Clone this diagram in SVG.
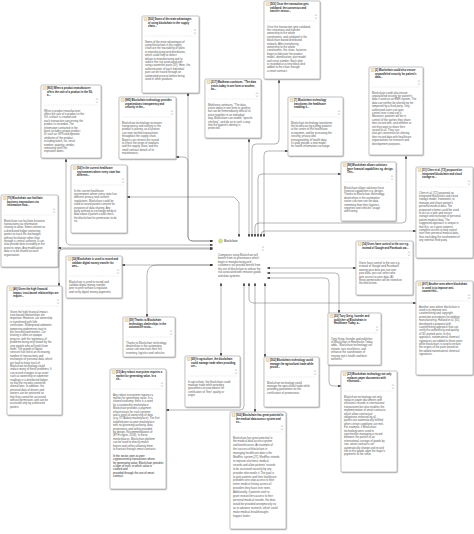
<svg xmlns="http://www.w3.org/2000/svg" xmlns:xlink="http://www.w3.org/1999/xlink" width="474" height="534" viewBox="0 0 474 534">
<defs>
<style>
.bx{fill:#fff;stroke:#8a8a8a;stroke-width:.5;filter:url(#sh)}
.ic{fill:#f3e7c2;stroke:#c7aa70;stroke-width:.3}
.t{font-family:"Liberation Sans",Arial,sans-serif;font-size:2.6px;font-weight:bold;fill:#2a2a2a}
.b{font-family:"Liberation Sans",Arial,sans-serif;font-size:2.75px;fill:#5a5a5a}
.bd{fill:#2a2a2a}
.sp{stroke:#c8c8c8;stroke-width:.35;stroke-dasharray:1 .7}
.cn path{fill:none;stroke:#6a6a6a;stroke-width:.5;marker-start:url(#ah);marker-end:url(#ah)}
.tg{fill:none;stroke:#444;stroke-width:.35}
</style>
<filter id="sh" x="-10%" y="-10%" width="125%" height="125%"><feDropShadow dx="0.6" dy="0.8" stdDeviation="0.5" flood-opacity="0.35"/></filter>
<marker id="ah" markerUnits="userSpaceOnUse" markerWidth="3" markerHeight="2.6" refX="2.8" refY="1.3" orient="auto-start-reverse"><path d="M0,0 L3,1.3 L0,2.6z" fill="#333"/></marker>
<path id="tg" class="tg" d="M-0.8,14.6 L0,13.7 L0.8,14.6 M-0.8,16.6 L0,17.5 L0.8,16.6"/>
</defs>
<rect width="474" height="534" fill="#fff"/>

<g id="connectors" class="cn">
<path d="M66,159 V240 Q66,245 71,245 H213"/>
<path d="M188,93 V236 Q188,241 193,241 H213"/>
<path d="M176,157 H183 Q188,157 188,162 V236 Q188,241 193,241 H213"/>
<path d="M127,197 H234 L239,202 V237"/>
<path d="M58,248 H213"/>
<path d="M59,286 V253 Q59,249 63,249 H213"/>
<path d="M122,265 H213"/>
<path d="M147,317 V275 Q147,265 157,265 H213"/>
<path d="M249,139 V237"/>
<path d="M279,80 V140 Q279,144 275,144 H256 Q252,144 252,148 V237"/>
<path d="M406,156 V219 Q406,223 402,223 H259 Q255,223 255,227 V237"/>
<path d="M341,174 H262 Q258,174 258,178 V237"/>
<path d="M416,231 H265 Q261,231 261,235 V237"/>
<path d="M288,151 H268 Q264,151 264,155 V237"/>
<path d="M356,268 H267"/>
<path d="M339,313 V277 Q339,273 335,273 H267"/>
<path d="M341,386 H333 Q329,386 329,382 V282 Q329,278 325,278 H267"/>
<path d="M221,356 V283"/>
<path d="M166,410 H240 Q244,410 244,406 V283"/>
<path d="M416,303 H254 Q249,303 249,298 V283"/>
<path d="M255,412 V283"/>
<path d="M265,357 V283"/>
</g>

<g id="center" transform="translate(218,237)">
<circle cx="2.5" cy="4" r="2" fill="#d4e38c" stroke="#9cb04c" stroke-width=".3"/>
<text class="t" x="6" y="5" style="font-weight:normal;font-size:2.8px">Blockchain</text>
<use href="#tg" x="45" y="-4"/>
<text class="b"><tspan x="0" y="18.5">Companies using Blockchain will</tspan><tspan x="0" y="22">benefit from its provenance which</tspan><tspan x="0" y="25.5">begin in manufacturing and</tspan><tspan x="0" y="29">customers will provide benefit from</tspan><tspan x="0" y="32.5">the use of blockchain to reduce the</tspan><tspan x="0" y="36">risk associated with imitative goods</tspan><tspan x="0" y="39.5">and data systems.</tspan></text>
</g>

<g id="n863" transform="translate(41,85)">
<rect class="bx" width="60" height="73" rx="1"/><rect class="ic" x="2" y="1.8" width="3" height="3"/>
<text class="t"><tspan x="6" y="4.2">[863] When a product manufacturer</tspan><tspan x="6" y="7.6">offers the sale of a product in the 5G,</tspan><tspan x="6" y="11">a...</tspan></text>
<use href="#tg" x="56"/><line class="sp" x1="3" x2="57" y1="20" y2="20"/>
<text class="b"><tspan x="3" y="26.5">When a product manufacturer</tspan><tspan x="3" y="29.9">offers the sale of a product in the</tspan><tspan x="3" y="33.3">5G, a block is created and</tspan><tspan x="3" y="36.7">each transaction concerning the</tspan><tspan x="3" y="40.1">product is recorded. The</tspan><tspan x="3" y="43.5">information contained in the</tspan><tspan x="3" y="46.9">block includes unique product</tspan><tspan x="3" y="50.3">ID such as GPS and dynamic</tspan><tspan x="3" y="53.7">attributes of the product</tspan><tspan x="3" y="57.1">including batch, lot, serial</tspan><tspan x="3" y="60.5">number, quantity, vendor,</tspan><tspan x="3" y="63.9">remaining shelf life,</tspan><tspan x="3" y="67.3">expiration dates.</tspan></text>
</g>

<g id="n562a" transform="translate(142,16)">
<rect class="bx" width="57" height="77" rx="1"/><rect class="ic" x="2" y="1.8" width="3" height="3"/>
<text class="t"><tspan x="6" y="4.2">[562] Some of the main advantages</tspan><tspan x="6" y="7.6">of using blockchain in the supply</tspan><tspan x="6" y="11">chain...</tspan></text>
<use href="#tg" x="53"/><line class="sp" x1="3" x2="54" y1="20" y2="20"/>
<text class="b"><tspan x="3" y="26.5">Some of the main advantages of</tspan><tspan x="3" y="29.9">using blockchain in the supply</tspan><tspan x="3" y="33.3">chain are the traceability of parts</tspan><tspan x="3" y="36.7">in manufacturing and distribution,</tspan><tspan x="3" y="40.1">which could help to detect</tspan><tspan x="3" y="43.5">delays in manufacturing and to</tspan><tspan x="3" y="46.9">reduce the risk associated with</tspan><tspan x="3" y="50.3">using counterfeit parts [59]. Here, the</tspan><tspan x="3" y="53.7">authentication of each individual</tspan><tspan x="3" y="57.1">part can be traced through an</tspan><tspan x="3" y="60.5">automated process before being</tspan><tspan x="3" y="63.9">used in other products.</tspan></text>
</g>

<g id="n563" transform="translate(264,1)">
<rect class="bx" width="56" height="78" rx="1"/><rect class="ic" x="2" y="1.8" width="3" height="3"/>
<text class="t"><tspan x="6" y="4.2">[563] Once the transaction gets</tspan><tspan x="6" y="7.6">validated, the consensus and</tspan><tspan x="6" y="11">transfer sensor...</tspan></text>
<use href="#tg" x="52"/><line class="sp" x1="3" x2="53" y1="20" y2="20"/>
<text class="b"><tspan x="3" y="26.5">Once the transaction gets validated,</tspan><tspan x="3" y="29.9">the consensus and transfer</tspan><tspan x="3" y="33.3">ownership to the whole</tspan><tspan x="3" y="36.7">constituents, and validated in the</tspan><tspan x="3" y="40.1">blockchain based distributed</tspan><tspan x="3" y="43.5">network. After transferring</tspan><tspan x="3" y="46.9">ownership to the whole</tspan><tspan x="3" y="50.3">constituents, the chain, factories</tspan><tspan x="3" y="53.7">begin to fabricate the product</tspan><tspan x="3" y="57.1">model, identification, part model</tspan><tspan x="3" y="60.5">and serial number. Each step</tspan><tspan x="3" y="63.9">is recorded as a new block and</tspan><tspan x="3" y="67.3">added to the chain through</tspan><tspan x="3" y="70.7">a smart contract.</tspan></text>
</g>

<g id="n2" transform="translate(369,67)">
<rect class="bx" width="54" height="88" rx="1"/><rect class="ic" x="2" y="1.8" width="3" height="3"/>
<text class="t"><tspan x="6" y="4.2">[2] Blockchain could also ensure</tspan><tspan x="6" y="7.6">unparalleled security for patient's</tspan><tspan x="6" y="11">data...</tspan></text>
<use href="#tg" x="50"/><line class="sp" x1="3" x2="51" y1="20" y2="20"/>
<text class="b"><tspan x="3" y="26.5">Blockchain could also ensure</tspan><tspan x="3" y="29.9">unparalleled security for patient's</tspan><tspan x="3" y="33.3">data if used as an EMR system. The</tspan><tspan x="3" y="36.7">data can neither be altered nor be</tspan><tspan x="3" y="40.1">tampered by a third party. Only</tspan><tspan x="3" y="43.5">authorized users can gain</tspan><tspan x="3" y="46.9">control over it and use it.</tspan><tspan x="3" y="50.3">Moreover, patients will be in</tspan><tspan x="3" y="53.7">control of the parties they share</tspan><tspan x="3" y="57.1">their record with, and whether or</tspan><tspan x="3" y="60.5">not they want to share their</tspan><tspan x="3" y="63.9">record at all. They can</tspan><tspan x="3" y="67.3">also get consensus for altering</tspan><tspan x="3" y="70.7">their record data with healthcare</tspan><tspan x="3" y="74.1">organizations for research and</tspan><tspan x="3" y="77.5">development purposes.</tspan></text>
</g>

<g id="n217" transform="translate(205,79)">
<rect class="bx" width="56" height="59" rx="1"/><rect class="ic" x="2" y="1.8" width="3" height="3"/>
<text class="t"><tspan x="6" y="4.2">[217] Matthews continues, "The data</tspan><tspan x="6" y="7.6">exists today in one form or another,</tspan><tspan x="6" y="11">bu...</tspan></text>
<use href="#tg" x="52"/><line class="sp" x1="3" x2="53" y1="20" y2="20"/>
<text class="b"><tspan x="3" y="26.5">Matthews continues, "The data</tspan><tspan x="3" y="29.9">exists today in one form or another,</tspan><tspan x="3" y="33.3">but can be tremendously difficult to</tspan><tspan x="3" y="36.7">piece together in an individual</tspan><tspan x="3" y="40.1">way. Blockchain can enable "specific</tspan><tspan x="3" y="43.5">stitching", and do so in such a way</tspan><tspan x="3" y="46.9">that the patient's identity is</tspan><tspan x="3" y="50.3">protected."</tspan></text>
</g>

<g id="n7" transform="translate(288,97)">
<rect class="bx" width="55" height="59" rx="1"/><rect class="ic" x="2" y="1.8" width="3" height="3"/>
<text class="t"><tspan x="6" y="4.2">[7] Blockchain technology</tspan><tspan x="6" y="7.6">transforms the healthcare</tspan><tspan x="6" y="11">enabling it...</tspan></text>
<use href="#tg" x="51"/><line class="sp" x1="3" x2="52" y1="20" y2="20"/>
<text class="b"><tspan x="3" y="26.5">Blockchain technology transforms</tspan><tspan x="3" y="29.9">the healthcare by putting patients</tspan><tspan x="3" y="33.3">at the centre of the healthcare</tspan><tspan x="3" y="36.7">ecosystem, and by increasing the</tspan><tspan x="3" y="40.1">security, privacy and</tspan><tspan x="3" y="43.5">interoperability of health data.</tspan><tspan x="3" y="46.9">It could provide a new model</tspan><tspan x="3" y="50.3">for health information exchange.</tspan></text>
</g>

<g id="n985" transform="translate(119,97)">
<rect class="bx" width="57" height="62" rx="1"/><rect class="ic" x="2" y="1.8" width="3" height="3"/>
<text class="t"><tspan x="6" y="4.2">[985] Blockchain technology provides</tspan><tspan x="6" y="7.6">organizations transparency and</tspan><tspan x="6" y="11">security in the...</tspan></text>
<use href="#tg" x="53"/><line class="sp" x1="3" x2="54" y1="20" y2="20"/>
<text class="b"><tspan x="3" y="26.5">Blockchain technology increases</tspan><tspan x="3" y="29.9">transparency and security in the</tspan><tspan x="3" y="33.3">product's journey, as all parties</tspan><tspan x="3" y="36.7">can view verified transactions</tspan><tspan x="3" y="40.1">throughout the supply chain.</tspan><tspan x="3" y="43.5">Buyers can retrieve the record</tspan><tspan x="3" y="46.9">to check the origin of products</tspan><tspan x="3" y="50.3">and the supply chain, and the</tspan><tspan x="3" y="53.7">small contract details of its</tspan><tspan x="3" y="57.1">maintenance.</tspan></text>
</g>

<g id="n54" transform="translate(71,165)">
<rect class="bx" width="56" height="68" rx="1"/><rect class="ic" x="2" y="1.8" width="3" height="3"/>
<text class="t"><tspan x="6" y="4.2">[54] In the current healthcare</tspan><tspan x="6" y="7.6">environment where every state has</tspan><tspan x="6" y="11">different...</tspan></text>
<use href="#tg" x="52"/><line class="sp" x1="3" x2="53" y1="20" y2="20"/>
<text class="b"><tspan x="3" y="26.5">In the current healthcare</tspan><tspan x="3" y="29.9">environment where every state has</tspan><tspan x="3" y="33.3">different privacy and consent</tspan><tspan x="3" y="36.7">regulations, Blockchain could be</tspan><tspan x="3" y="40.1">used to record patient consent for</tspan><tspan x="3" y="43.5">purposes of data sharing. Any</tspan><tspan x="3" y="46.9">party wishing to exchange medical</tspan><tspan x="3" y="50.3">data about a patient could check</tspan><tspan x="3" y="53.7">the blockchain for permission to do</tspan><tspan x="3" y="57.1">so.</tspan></text>
</g>

<g id="n79" transform="translate(1,195)">
<rect class="bx" width="57" height="72" rx="1"/><rect class="ic" x="2" y="1.8" width="3" height="3"/>
<text class="t"><tspan x="6" y="4.2">[79] Blockchain can facilitate</tspan><tspan x="6" y="7.6">business transactions via</tspan><tspan x="6" y="11">information flow...</tspan></text>
<use href="#tg" x="53"/><line class="sp" x1="3" x2="54" y1="20" y2="20"/>
<text class="b"><tspan x="3" y="26.5">Blockchain can facilitate business</tspan><tspan x="3" y="29.9">transactions via information</tspan><tspan x="3" y="33.3">sharing to allow. Some content as</tspan><tspan x="3" y="36.7">a distributed ledger protecting</tspan><tspan x="3" y="40.1">parties to track the exchanges</tspan><tspan x="3" y="43.5">without facilitation rather than</tspan><tspan x="3" y="46.9">through a central authority. It can</tspan><tspan x="3" y="50.3">also provide data recording in the</tspan><tspan x="3" y="53.7">process steps. Any modification</tspan><tspan x="3" y="57.1">data is to be shared as each</tspan><tspan x="3" y="60.5">organisation.</tspan></text>
</g>

<g id="n34" transform="translate(66,256)">
<rect class="bx" width="56" height="42" rx="1"/><rect class="ic" x="2" y="1.8" width="3" height="3"/>
<text class="t"><tspan x="6" y="4.2">[34] Blockchain is used to record and</tspan><tspan x="6" y="7.6">validate digital money transfer for</tspan><tspan x="6" y="11">wes...</tspan></text>
<use href="#tg" x="52"/><line class="sp" x1="3" x2="53" y1="20" y2="20"/>
<text class="b"><tspan x="3" y="26.5">Blockchain is used to record and</tspan><tspan x="3" y="29.9">validate digital money transfer</tspan><tspan x="3" y="33.3">peer to peer without a regulator,</tspan><tspan x="3" y="36.7">and verify digital money payments.</tspan></text>
</g>

<g id="n46" transform="translate(7,286)">
<rect class="bx" width="55" height="129" rx="1"/><rect class="ic" x="2" y="1.8" width="3" height="3"/>
<text class="t"><tspan x="6" y="4.2">[46] Given the high financial</tspan><tspan x="6" y="7.6">impact, trust-based relationships are</tspan><tspan x="6" y="11">require...</tspan></text>
<use href="#tg" x="51"/><line class="sp" x1="3" x2="52" y1="20" y2="20"/>
<text class="b"><tspan x="3" y="26.5">Given the high financial impact,</tspan><tspan x="3" y="29.9">trust-based relationships are</tspan><tspan x="3" y="33.3">important. However, car ownership</tspan><tspan x="3" y="36.7">is transferred with little</tspan><tspan x="3" y="40.1">verification. Widespread odometer</tspan><tspan x="3" y="43.5">tampering undermines trust in</tspan><tspan x="3" y="46.9">the second-hand market. Car</tspan><tspan x="3" y="50.3">leasing is often an opaque</tspan><tspan x="3" y="53.7">process, with the legitimacy of</tspan><tspan x="3" y="57.1">problems being only known by the</tspan><tspan x="3" y="60.5">very people who will profit from</tspan><tspan x="3" y="63.9">them. The growth of digital</tspan><tspan x="3" y="67.3">services has led to an increasing</tspan><tspan x="3" y="70.7">number of transactions and</tspan><tspan x="3" y="74.1">exchanges of personal data, which</tspan><tspan x="3" y="77.5">are hard to keep track of.</tspan><tspan x="3" y="80.9">Blockchain technology could</tspan><tspan x="3" y="84.3">reduce many of these problems. It</tspan><tspan x="3" y="87.7">can record changes to an asset</tspan><tspan x="3" y="91.1">such as ownership or odometer</tspan><tspan x="3" y="94.5">readings in a distributed ledger,</tspan><tspan x="3" y="97.9">so that the records cannot be</tspan><tspan x="3" y="101.3">altered later. In addition, the</tspan><tspan x="3" y="104.7">personal data of drivers and</tspan><tspan x="3" y="108.1">owners can be protected so</tspan><tspan x="3" y="111.5">that they cannot be accessed</tspan><tspan x="3" y="114.9">without permission, and can be</tspan><tspan x="3" y="118.3">accessed only by authorized</tspan><tspan x="3" y="121.7">parties.</tspan></text>
</g>

<g id="n58" transform="translate(123,317)">
<rect class="bx" width="52" height="40" rx="1"/><rect class="ic" x="2" y="1.8" width="3" height="3"/>
<text class="t"><tspan x="6" y="4.2">[58] Thanks to Blockchain</tspan><tspan x="6" y="7.6">technology, dealerships in the</tspan><tspan x="6" y="11">automotive secto...</tspan></text>
<use href="#tg" x="48"/><line class="sp" x1="3" x2="49" y1="20" y2="20"/>
<text class="b"><tspan x="3" y="26.5">Thanks to Blockchain technology,</tspan><tspan x="3" y="29.9">dealerships in the automotive</tspan><tspan x="3" y="33.3">sector can now track their full</tspan><tspan x="3" y="36.7">inventory, logistics and vehicles.</tspan></text>
</g>

<g id="n13" transform="translate(110,369)">
<rect class="bx" width="56" height="120" rx="1"/><rect class="ic" x="2" y="1.8" width="3" height="3"/>
<text class="t"><tspan x="6" y="4.2">[13] Any robust ecosystem requires a</tspan><tspan x="6" y="7.6">market for generating value. In a</tspan><tspan x="6" y="11">sh...</tspan></text>
<use href="#tg" x="52"/><line class="sp" x1="3" x2="53" y1="20" y2="20"/>
<text class="b"><tspan x="3" y="26.5">Any robust ecosystem requires a</tspan><tspan x="3" y="29.9">market for generating value. In a</tspan><tspan x="3" y="33.3">shared economy, there is a need</tspan><tspan x="3" y="36.7">for a trustworthy marketplace.</tspan><tspan x="3" y="40.1">Blockchain provides a payment</tspan><tspan x="3" y="43.5">infrastructure for such systems</tspan><tspan x="3" y="46.9">and a proof-of-ownership of data</tspan><tspan x="3" y="50.3">(e.g. IOTA data marketplace). The first</tspan><tspan x="3" y="53.7">enabled peer-to-peer marketplace</tspan><tspan x="3" y="57.1">with no governing authority, data</tspan><tspan x="3" y="60.5">provenance and safety provided</tspan><tspan x="3" y="63.9">by design. Recommendations of</tspan><tspan x="3" y="67.3">(ETH crypto, 2018). In these</tspan><tspan x="3" y="70.7">marketplaces, Blockchain platform</tspan><tspan x="3" y="74.1">can be used to directly match</tspan><tspan x="3" y="77.5">buyers and sellers allowing them</tspan><tspan x="3" y="80.9">to transact through smart contracts.</tspan><tspan class="bd" x="3" y="87.7">In the sector, peer-to-peer</tspan><tspan class="bd" x="3" y="91.1">cryptocurrency transactions where</tspan><tspan class="bd" x="3" y="94.5">for generating value, Blockchain provides</tspan><tspan class="bd" x="3" y="97.9">a layer of trust, in which value is</tspan><tspan class="bd" x="3" y="101.3">created and</tspan><tspan class="bd" x="3" y="104.7">provided through the use of smart</tspan><tspan class="bd" x="3" y="108.1">contract.</tspan></text>
</g>

<g id="n98" transform="translate(341,162)">
<rect class="bx" width="55" height="59" rx="1"/><rect class="ic" x="2" y="1.8" width="3" height="3"/>
<text class="t"><tspan x="6" y="4.2">[98] Blockchain allows solutions</tspan><tspan x="6" y="7.6">have financial capabilities eg. design.</tspan><tspan x="6" y="11">This...</tspan></text>
<use href="#tg" x="51"/><line class="sp" x1="3" x2="52" y1="20" y2="20"/>
<text class="b"><tspan x="3" y="26.5">Blockchain allows solutions have</tspan><tspan x="3" y="29.9">financial capabilities e.g. design.</tspan><tspan x="3" y="33.3">Thanks to Blockchain technology,</tspan><tspan x="3" y="36.7">dealerships in the automotive</tspan><tspan x="3" y="40.1">sector can now see the data</tspan><tspan x="3" y="43.5">stemming from their logistics,</tspan><tspan x="3" y="46.9">registries and vehicles' usage</tspan><tspan x="3" y="50.3">and history.</tspan></text>
</g>

<g id="n31" transform="translate(416,167)">
<rect class="bx" width="57" height="91" rx="1"/><rect class="ic" x="2" y="1.8" width="3" height="3"/>
<text class="t"><tspan x="6" y="4.2">[31] Chen et al. [72] proposed an</tspan><tspan x="6" y="7.6">integrated blockchain and cloud</tspan><tspan x="6" y="11">storage m...</tspan></text>
<use href="#tg" x="53"/><line class="sp" x1="3" x2="54" y1="20" y2="20"/>
<text class="b"><tspan x="3" y="26.5">Chen et al. [72] proposed an</tspan><tspan x="3" y="29.9">integrated blockchain and cloud</tspan><tspan x="3" y="33.3">storage model, framework, to</tspan><tspan x="3" y="36.7">manage and share patient's</tspan><tspan x="3" y="40.1">personal medical data. The</tspan><tspan x="3" y="43.5">proposed scheme could be used</tspan><tspan x="3" y="46.9">to act as a safe and secure</tspan><tspan x="3" y="50.3">storage and exchange of personal</tspan><tspan x="3" y="53.7">patient medical data. The</tspan><tspan x="3" y="57.1">suggested approach is unique in</tspan><tspan x="3" y="60.5">that this, as it gives patients</tspan><tspan x="3" y="63.9">complete access to and control</tspan><tspan x="3" y="67.3">over their personal medical data,</tspan><tspan x="3" y="70.7">thus excluding the involvement of</tspan><tspan x="3" y="74.1">any external third party.</tspan></text>
</g>

<g id="n14" transform="translate(356,241)">
<rect class="bx" width="57" height="54" rx="1"/><rect class="ic" x="2" y="1.8" width="3" height="3"/>
<text class="t"><tspan x="6" y="4.2">[14] Users have control to the use e.g.</tspan><tspan x="6" y="7.6">instead of Google and Facebook ow...</tspan></text>
<use href="#tg" x="53" y="-3"/><line class="sp" x1="3" x2="54" y1="17" y2="17"/>
<text class="b"><tspan x="3" y="23">Users have control to the use e.g.</tspan><tspan x="3" y="26.4">instead of Google and Facebook</tspan><tspan x="3" y="29.8">owning your data you can own</tspan><tspan x="3" y="33.2">your data, you can select who</tspan><tspan x="3" y="36.6">gets access to your data. All</tspan><tspan x="3" y="40">these permissions will be stored on</tspan><tspan x="3" y="43.4">the blockchain.</tspan></text>
</g>

<g id="n607" transform="translate(416,281)">
<rect class="bx" width="57" height="94" rx="1"/><rect class="ic" x="2" y="1.8" width="3" height="3"/>
<text class="t"><tspan x="6" y="4.2">[607] Another area where blockchain</tspan><tspan x="6" y="7.6">is used is to improve anti-</tspan><tspan x="6" y="11">counterfeiti...</tspan></text>
<use href="#tg" x="53"/><line class="sp" x1="3" x2="54" y1="20" y2="20"/>
<text class="b"><tspan x="3" y="26.5">Another area where blockchain is</tspan><tspan x="3" y="29.9">used is to improve anti-</tspan><tspan x="3" y="33.3">counterfeiting and copyright</tspan><tspan x="3" y="36.7">protection procedures for additive</tspan><tspan x="3" y="40.1">manufacturing. Holland et al. [61]</tspan><tspan x="3" y="43.5">developed a proposal with</tspan><tspan x="3" y="46.9">counterfeiting approach that can</tspan><tspan x="3" y="50.3">verify the authenticity and quality</tspan><tspan x="3" y="53.7">of 3D-printed parts. In this</tspan><tspan x="3" y="57.1">approach, nanomaterial chemical</tspan><tspan x="3" y="60.5">signatures are added to these parts</tspan><tspan x="3" y="63.9">while blockchain is used to ensure</tspan><tspan x="3" y="67.3">the origins of the parts based on</tspan><tspan x="3" y="70.7">the added nanomaterial chemical</tspan><tspan x="3" y="74.1">signatures.</tspan></text>
</g>

<g id="n22" transform="translate(328,313)">
<rect class="bx" width="53" height="52" rx="1"/><rect class="ic" x="2" y="1.8" width="3" height="3"/>
<text class="t"><tspan x="6" y="4.2">[22] Tony Greig, founder and</tspan><tspan x="6" y="7.6">publisher of Blockchain in</tspan><tspan x="6" y="11">Healthcare Today, a...</tspan></text>
<use href="#tg" x="49"/><line class="sp" x1="3" x2="50" y1="20" y2="20"/>
<text class="b"><tspan x="3" y="26.5">Tony Greig, founder and publisher</tspan><tspan x="3" y="29.9">of Blockchain in Healthcare Today,</tspan><tspan x="3" y="33.3">adds, "Blockchain technology can</tspan><tspan x="3" y="36.7">elevate care excellence, and</tspan><tspan x="3" y="40.1">enhance the coordination of</tspan><tspan x="3" y="43.5">serving one's health and best</tspan><tspan x="3" y="46.9">wellness."</tspan></text>
</g>

<g id="n23" transform="translate(341,371)">
<rect class="bx" width="56" height="101" rx="1"/><rect class="ic" x="2" y="1.8" width="3" height="3"/>
<text class="t"><tspan x="6" y="4.2">[23] Blockchain technology not only</tspan><tspan x="6" y="7.6">replaces paper documents with</tspan><tspan x="6" y="11">electronic...</tspan></text>
<use href="#tg" x="52"/><line class="sp" x1="3" x2="53" y1="20" y2="20"/>
<text class="b"><tspan x="3" y="26.5">Blockchain technology not only</tspan><tspan x="3" y="29.9">replaces paper documents with</tspan><tspan x="3" y="33.3">electronic records in international</tspan><tspan x="3" y="36.7">transactions but also enables the</tspan><tspan x="3" y="40.1">implementation of smart contracts,</tspan><tspan x="3" y="43.5">which allow contractual</tspan><tspan x="3" y="46.9">obligations enforced by all</tspan><tspan x="3" y="50.3">parties are automatically fulfilled</tspan><tspan x="3" y="53.7">when certain conditions are met.</tspan><tspan x="3" y="57.1">For example, if Blockchain</tspan><tspan x="3" y="60.5">technology were used to</tspan><tspan x="3" y="63.9">synchronize managing a record</tspan><tspan x="3" y="67.3">between the parties to an</tspan><tspan x="3" y="70.7">international carriage of goods by</tspan><tspan x="3" y="74.1">sea, smart contracts can</tspan><tspan x="3" y="77.5">automatically change and record</tspan><tspan x="3" y="80.9">title to the goods upon the buyer's</tspan><tspan x="3" y="84.3">payments to the seller.</tspan></text>
</g>

<g id="n68" transform="translate(185,356)">
<rect class="bx" width="55" height="51" rx="1"/><rect class="ic" x="2" y="1.8" width="3" height="3"/>
<text class="t"><tspan x="6" y="4.2">[68] In agriculture, the blockchain</tspan><tspan x="6" y="7.6">could manage trade when providing</tspan><tspan x="6" y="11">cer...</tspan></text>
<use href="#tg" x="51"/><line class="sp" x1="3" x2="52" y1="20" y2="20"/>
<text class="b"><tspan x="3" y="26.5">In agriculture, the blockchain could</tspan><tspan x="3" y="29.9">manage trade while providing</tspan><tspan x="3" y="33.3">guarantees on procedures for</tspan><tspan x="3" y="36.7">certification of 'their' quality or</tspan><tspan x="3" y="40.1">origin.</tspan></text>
</g>

<g id="n562b" transform="translate(264,357)">
<rect class="bx" width="55" height="50" rx="1"/><rect class="ic" x="2" y="1.8" width="3" height="3"/>
<text class="t"><tspan x="6" y="4.2">[562] Blockchain technology could</tspan><tspan x="6" y="7.6">manage the agricultural trade while</tspan><tspan x="6" y="11">provid...</tspan></text>
<use href="#tg" x="51"/><line class="sp" x1="3" x2="52" y1="20" y2="20"/>
<text class="b"><tspan x="3" y="26.5">Blockchain technology could</tspan><tspan x="3" y="29.9">manage the agricultural trade while</tspan><tspan x="3" y="33.3">providing guarantees on the</tspan><tspan x="3" y="36.7">certification of provenance.</tspan></text>
</g>

<g id="n562c" transform="translate(230,412)">
<rect class="bx" width="56" height="117" rx="1"/><rect class="ic" x="2" y="1.8" width="3" height="3"/>
<text class="t"><tspan x="6" y="4.2">[562] Blockchain has great potential in</tspan><tspan x="6" y="7.6">the medical data access system and</tspan><tspan x="6" y="11">ex...</tspan></text>
<use href="#tg" x="52"/><line class="sp" x1="3" x2="53" y1="20" y2="20"/>
<text class="b"><tspan x="3" y="26.5">Blockchain has great potential in</tspan><tspan x="3" y="30.4">the medical data access system</tspan><tspan x="3" y="34.3">and beneficiaries. An example of</tspan><tspan x="3" y="38.2">the success of blockchain in</tspan><tspan x="3" y="42.1">managing healthcare data is the</tspan><tspan x="3" y="46">MedRec system [27]. MedRec intends</tspan><tspan x="3" y="49.9">to improve electronic medical</tspan><tspan x="3" y="53.8">records and allow patients' records</tspan><tspan x="3" y="57.7">to be accessed securely by any</tspan><tspan x="3" y="61.6">provider who needs it. The goal is</tspan><tspan x="3" y="65.5">to give patients and their healthcare</tspan><tspan x="3" y="69.4">providers one-stop access to their</tspan><tspan x="3" y="73.3">entire medical history across all</tspan><tspan x="3" y="77.2">providers they have ever seen.</tspan><tspan x="3" y="81.1">Additionally, if patients wish to</tspan><tspan x="3" y="85">grant researchers access to their</tspan><tspan x="3" y="88.9">personal medical records, the data</tspan><tspan x="3" y="92.8">would be provided anonymously so</tspan><tspan x="3" y="96.7">as to advance research, which could</tspan><tspan x="3" y="100.6">make medical breakthroughs</tspan><tspan x="3" y="104.5">happen faster.</tspan></text>
</g>
</svg>
